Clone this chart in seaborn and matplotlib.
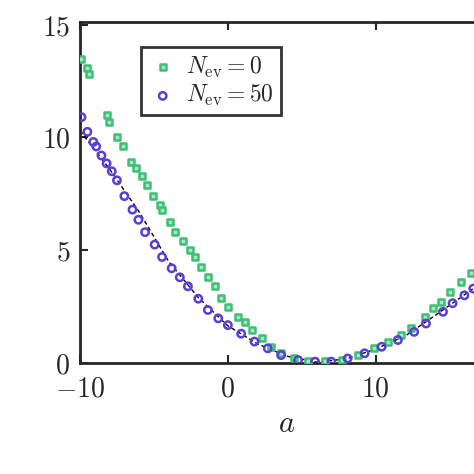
import matplotlib
matplotlib.use("Agg")
import matplotlib.pyplot as plt
import seaborn as sns
import pandas as pd
from matplotlib.ticker import FuncFormatter

sns.set_style("ticks")
plt.rcParams['mathtext.fontset'] = 'cm'
plt.rcParams['font.family'] = ['DejaVu Serif']

a0 = [-9.93,-9.55,-9.4,-8.2,-8.04,-7.5,-7.1,-6.55,-6.2,-5.8,-5.5,-5.05,-4.6,-4.45,-3.9,-3.6,-3.0,-2.55,-2.2,-1.8,-1.35,-0.9,-0.45,0.0,0.7,1.15,1.6,2.3,2.95,3.6,4.5,5.4,6.55,7.7,8.8,9.9,10.8,11.7,12.4,13.3,13.85,14.4,15.0,15.8,16.45]
v0 = [13.5,13.1,12.8,11.0,10.7,10.0,9.6,8.9,8.65,8.3,7.9,7.4,7.0,6.8,6.25,5.8,5.4,5.0,4.7,4.25,3.8,3.4,2.9,2.5,2.05,1.8,1.45,1.1,0.72,0.43,0.2,0.08,0.08,0.13,0.35,0.65,0.95,1.25,1.55,2.05,2.45,2.7,3.15,3.6,4.0]
a50 = [-9.9,-9.5,-9.1,-8.9,-8.55,-8.2,-7.85,-7.5,-7.0,-6.45,-6.05,-5.6,-4.95,-4.45,-3.8,-3.25,-2.7,-2.0,-1.35,-0.65,0.0,0.9,1.8,2.7,3.6,4.75,5.9,7.0,8.1,9.25,10.4,11.5,12.6,13.4,14.55,15.2,16.0,16.6]
v50 = [10.9,10.25,9.8,9.6,9.2,8.85,8.5,8.1,7.4,6.8,6.35,5.8,5.25,4.7,4.2,3.8,3.4,2.85,2.35,1.98,1.68,1.3,0.95,0.65,0.35,0.13,0.06,0.06,0.2,0.43,0.72,1.02,1.38,1.75,2.27,2.65,3.0,3.3]
a_fit = [-10,-8,-6,-4,-2,0,2,4,6,8,10,12,14,16.6]
v_fit = [10.3,8.6,6.7,4.5,2.9,1.65,0.85,0.3,0.04,0.18,0.62,1.2,2.1,3.3]

fig = plt.figure(figsize=(4.74,4.74), dpi=100)
ax = fig.add_axes([80/474, 1-363/474, 414/474, 341/474])

sns.lineplot(x=a_fit, y=v_fit, ax=ax, color='black', linestyle=(0,(3,2)), linewidth=1, zorder=1)
sns.scatterplot(x=a0, y=v0, ax=ax, marker='s', s=20, facecolors='#a8e6c4', edgecolor='#3dbf74', linewidth=1.8,
                label=r'$N_{\rm ev}=0$', zorder=3)
sns.scatterplot(x=a50, y=v50, ax=ax, marker='o', s=28, facecolors='none', edgecolor='#5a3fd3', linewidth=1.8,
                label=r'$N_{\rm ev}=50$', zorder=4)

ax.set_xlim(-10, 18)
ax.set_ylim(0, 15.12)
ax.set_xticks([-10, 0, 10])
ax.set_yticks([0, 5, 10, 15])
fmt = FuncFormatter(lambda v, p: r'$%d$' % v)
ax.xaxis.set_major_formatter(fmt)
ax.yaxis.set_major_formatter(fmt)
ax.tick_params(direction='in', length=6, width=1.5, labelsize=20, top=True, right=True)
ax.tick_params(axis='x', pad=9)
ax.tick_params(axis='y', pad=7)
for s in ax.spines.values():
    s.set_linewidth(2)
ax.set_xlabel(r'$a$', fontsize=22, labelpad=4)
ax.set_ylabel('')
leg = ax.legend(loc='upper left', bbox_to_anchor=(0.12, 0.96), fontsize=17, frameon=True, fancybox=False,
                edgecolor='black', handletextpad=0.4, borderpad=0.3, labelspacing=0.15, handlelength=1.2)
leg.get_frame().set_linewidth(2)
fig.savefig('out.png', dpi=100)
